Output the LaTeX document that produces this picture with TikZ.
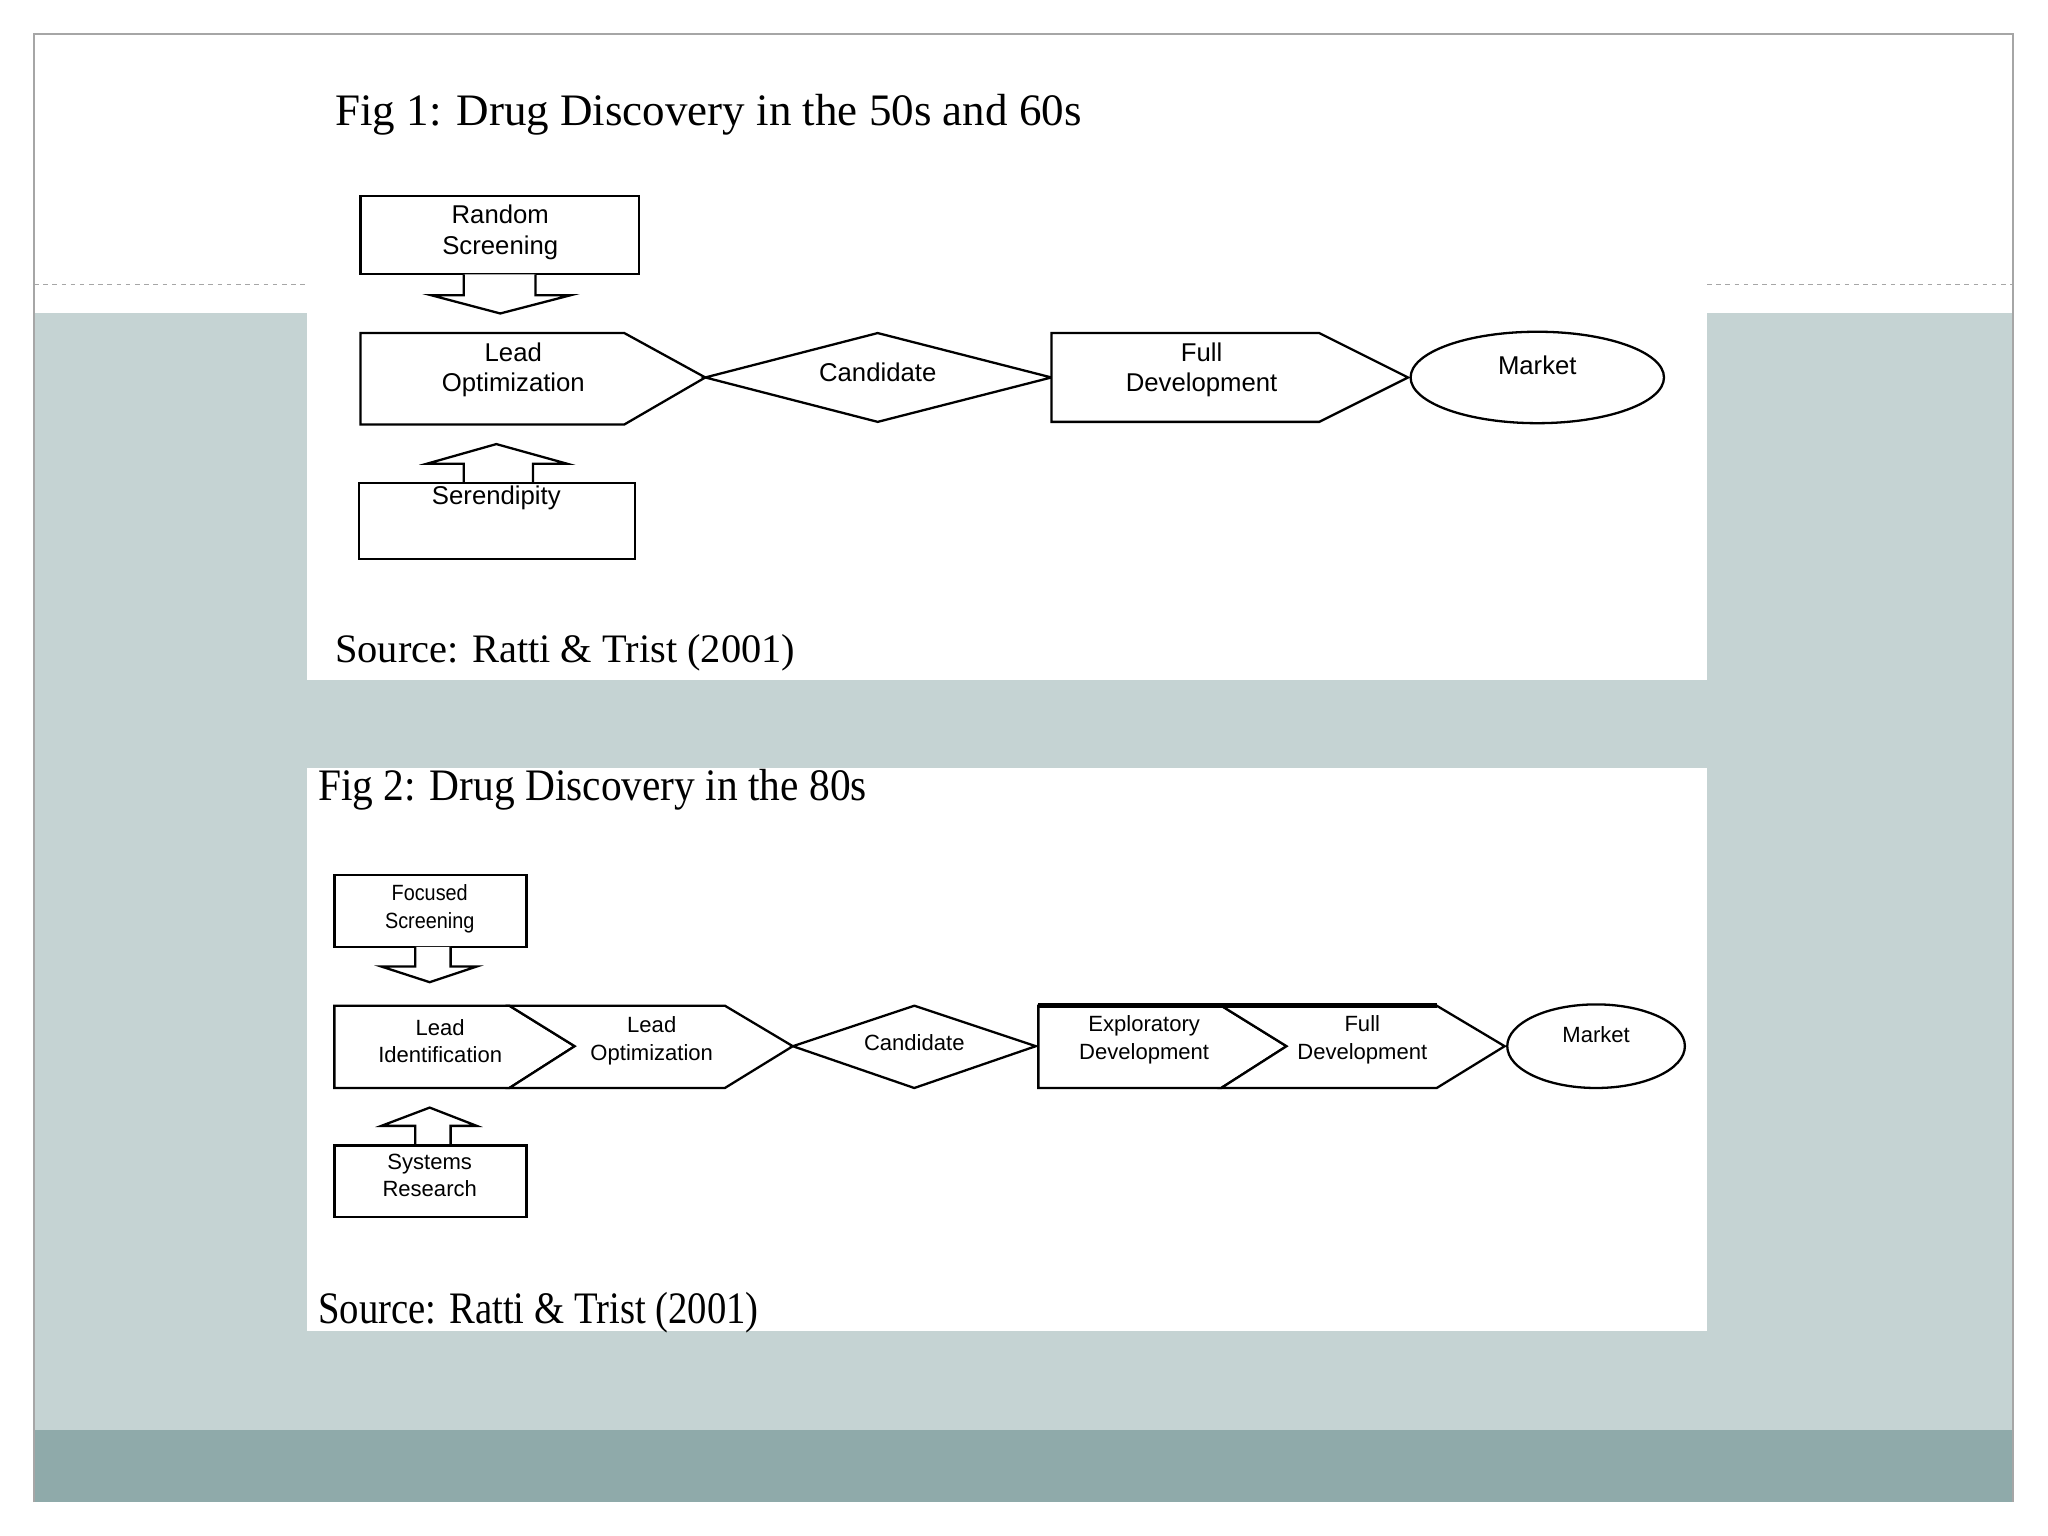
\documentclass[tikz,border=0pt]{standalone}
\usepackage{fontspec}
\setmainfont{Liberation Serif}
\newfontfamily\boxfont{Liberation Sans}
\usetikzlibrary{shapes.geometric}
\definecolor{slate}{HTML}{C5D3D3}
\definecolor{darkslate}{HTML}{8FAAAA}
\tikzset{
  shape line/.style={draw=black,line width=0.5pt,fill=white},
  lbl/.style={font=\boxfont\fontsize{5.6}{6.6}\selectfont,align=center,inner sep=0pt},
  lblsmall/.style={font=\boxfont\fontsize{4.8}{6}\selectfont,align=center,inner sep=0pt},
  title/.style={anchor=west,inner sep=0pt,font=\fontsize{9.8}{11}\selectfont}
}
\begin{document}
\begin{tikzpicture}[x=0.01cm,y=-0.01cm]
  \useasboundingbox (0,0) rectangle (1568,1176);
  % background
  \fill[white] (0,0) rectangle (1568,1176);
  \fill[slate] (26,240) rectangle (1541,1095);
  \fill[darkslate] (26,1095) rectangle (1541,1150);
  \draw[gray!70,line width=0.4pt] (26,1150) -- (26,26) -- (1541,26) -- (1541,1150);
  \draw[gray!70,dash pattern=on 1pt off 1pt,line width=0.3pt] (26,218) -- (235,218) (1307,218) -- (1541,218);
  \fill[white] (235,210) rectangle (1307,521);
  \fill[white] (235,588) rectangle (1307,1019);
  % fig 1
  \node[title] (t1) at (256,88) {Fig 1: Drug Discovery in the 50s and 60s};
  \node[title,font=\fontsize{8.8}{10}\selectfont] (s1) at (256,500) {Source: Ratti \& Trist (2001)};
  \draw[shape line] (276,150) rectangle (489,210);
  \node[lbl] (rs) at (383,178) {Random\\Screening};
  \draw[shape line] (355,210) -- (355,226) -- (330,226) -- (383,240) -- (437,226) -- (410,226) -- (410,210);
  \draw[shape line] (276,255) -- (478,255) -- (540,289) -- (478,325) -- (276,325) -- cycle;
  \node[lbl] (lo) at (393,283) {Lead\\Optimization};
  \draw[shape line] (540,289) -- (672,255) -- (805,289) -- (672,323) -- cycle;
  \node[lbl] (cd) at (672,285) {Candidate};
  \draw[shape line] (805,255) -- (1010,255) -- (1078,289) -- (1010,323) -- (805,323) -- cycle;
  \node[lbl] (fd) at (920,283) {Full\\Development};
  \draw[shape line] (1177,289) ellipse (97 and 35);
  \node[lbl] (mk) at (1177,280) {Market};
  \draw[shape line] (355,370) -- (355,355) -- (327,355) -- (380,340) -- (434,355) -- (408,355) -- (408,370);
  \draw[shape line] (275,370) rectangle (486,428);
  \node[lbl] (sd) at (380,381) {Serendipity};
  % fig 2
  \node[title,xscale=0.92,transform shape] (t2) at (243,605) {Fig 2: Drug Discovery in the 80s};
  \node[title,xscale=0.86,transform shape] (s2) at (243,1005) {Source: Ratti \& Trist (2001)};
  \draw[shape line] (256,670) rectangle (403,725);
  \node[lblsmall,xscale=0.9,transform shape] (fs) at (329,696) {Focused\\Screening};
  \draw[shape line] (318,725) -- (318,740) -- (292,740) -- (329,752) -- (365,740) -- (345,740) -- (345,725);
  \draw[shape line] (256,770) -- (390,770) -- (440,801) -- (390,833) -- (256,833) -- cycle;
  \node[lblsmall] (li) at (337,797) {Lead\\Identification};
  \draw[shape line] (390,770) -- (555,770) -- (607,801) -- (555,833) -- (390,833) -- (440,801) -- cycle;
  \node[lblsmall] (l2) at (499,797) {Lead\\Optimization};
  \draw[shape line] (607,801) -- (700,770) -- (793,801) -- (700,833) -- cycle;
  \node[lblsmall] (c2) at (700,798) {Candidate};
  \draw[shape line] (795,770) -- (935,770) -- (985,801) -- (935,833) -- (795,833) -- cycle;
  \draw[line width=1.2pt] (795,770) -- (935,770);
  \node[lblsmall] (ed) at (876,796) {Exploratory\\Development};
  \draw[shape line] (935,770) -- (1100,770) -- (1152,801) -- (1100,833) -- (935,833) -- (985,801) -- cycle;
  \draw[line width=1.2pt] (935,770) -- (1100,770);
  \node[lblsmall] (f2) at (1043,796) {Full\\Development};
  \draw[shape line] (1222,801) ellipse (68 and 32);
  \node[lblsmall] (m2) at (1222,792) {Market};
  \draw[shape line] (318,877) -- (318,862) -- (292,862) -- (329,848) -- (365,862) -- (345,862) -- (345,877);
  \draw[shape line] (256,877) rectangle (403,932);
  \node[lblsmall] (sr) at (329,900) {Systems\\Research};
\end{tikzpicture}
\end{document}
